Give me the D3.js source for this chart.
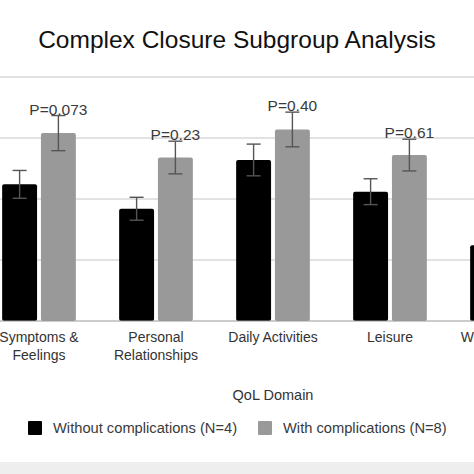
<!DOCTYPE html>
<html>
<head>
<meta charset="utf-8">
<script src="https://cdn.jsdelivr.net/npm/d3@7"></script>
<style>
  html, body { margin: 0; padding: 0; background: #fff; }
  #chart { width: 474px; height: 474px; overflow: hidden; }
  text { font-family: "Liberation Sans", Arial, sans-serif; }
</style>
</head>
<body>
<div id="chart"></div>
<script>
// data
const categories = ["Symptoms & Feelings", "Personal Relationships", "Daily Activities", "Leisure", "Work & School"];
const series = ["Without complications (N=4)", "With complications (N=8)"];
const withoutMean = [56, 46, 66, 53, 31];
const withoutErr = [5.7, 4.7, 6.5, 5.3, 4.5];
const withMean = [77, 67, 78.5, 68, 42];
const withErr = [7.2, 6.7, 7.1, 6.5, 6];
const pValues = ["P=0.073", "P=0.23", "P=0.40", "P=0.61", null];
const yTicks = [0, 25, 50, 75, 100];
const colors = ["#000000", "#999999"];

const W = 474, H = 474;
const svg = d3.select("#chart").append("svg")
  .attr("width", W)
  .attr("height", H);

// bottom grey strip
svg.append("rect")
  .attr("x", 0).attr("y", 462)
  .attr("width", W).attr("height", H - 462)
  .attr("fill", "#eeeeee");

svg.append("text")
  .attr("x", 237).attr("y", 48)
  .attr("text-anchor", "middle")
  .attr("font-size", 24.5)
  .attr("fill", "#111")
  .text("Complex Closure Subgroup Analysis");

const x = d3.scaleBand()
  .domain(categories)
  .range([-19.5, -19.5 + 117 * categories.length])
  .paddingInner(0.37)
  .paddingOuter(0.185);

const xs = d3.scaleBand()
  .domain(series)
  .range([0, x.bandwidth()])
  .paddingInner(0.1);

const y = d3.scaleLinear()
  .domain([0, 100])
  .range([321, 77]);

// gridlines
svg.append("g")
  .selectAll("line")
  .data(yTicks.slice(1))
  .enter()
  .append("line")
  .attr("x1", 0).attr("x2", W)
  .attr("y1", d => y(d)).attr("y2", d => y(d))
  .attr("stroke", "#d8d8d8")
  .attr("stroke-width", 1.6);

const rows = categories.map((c, i) => ({
  cat: c,
  vals: [
    { s: series[0], m: withoutMean[i], e: withoutErr[i], col: colors[0] },
    { s: series[1], m: withMean[i], e: withErr[i], col: colors[1] }
  ],
  p: pValues[i]
}));

const group = svg.append("g")
  .selectAll("g")
  .data(rows)
  .enter()
  .append("g")
  .attr("transform", d => "translate(" + x(d.cat) + ",0)");

group.selectAll("rect")
  .data(d => d.vals)
  .enter()
  .append("rect")
  .attr("x", d => xs(d.s))
  .attr("y", d => y(d.m))
  .attr("width", xs.bandwidth())
  .attr("height", d => y(0) - y(d.m))
  .attr("rx", 2)
  .attr("fill", d => d.col);

// error bars
const errs = group.selectAll("g.err")
  .data(d => d.vals)
  .enter()
  .append("g")
  .attr("class", "err")
  .attr("stroke", "#555")
  .attr("stroke-width", 1.4);

errs.append("line")
  .attr("x1", d => xs(d.s) + xs.bandwidth() / 2)
  .attr("x2", d => xs(d.s) + xs.bandwidth() / 2)
  .attr("y1", d => y(d.m + d.e))
  .attr("y2", d => y(d.m - d.e));

errs.selectAll("line.cap")
  .data(d => [d.m + d.e, d.m - d.e].map(v => ({ v: v, s: d.s })))
  .enter()
  .append("line")
  .attr("class", "cap")
  .attr("x1", d => xs(d.s) + xs.bandwidth() / 2 - 7)
  .attr("x2", d => xs(d.s) + xs.bandwidth() / 2 + 7)
  .attr("y1", d => y(d.v))
  .attr("y2", d => y(d.v));

// p-values above the grey bar
group.filter(d => d.p)
  .append("text")
  .attr("x", xs(series[1]) + xs.bandwidth() / 2)
  .attr("y", d => y(d.vals[1].m + d.vals[1].e) - 1)
  .attr("text-anchor", "middle")
  .attr("font-size", 15.5)
  .attr("fill", "#3a3a3a")
  .text(d => d.p);

// baseline
svg.append("line")
  .attr("x1", 0).attr("x2", W)
  .attr("y1", y(0)).attr("y2", y(0))
  .attr("stroke", "#999")
  .attr("stroke-width", 1);

// category labels (wrapped on two lines)
const labelLines = {
  "Symptoms & Feelings": ["Symptoms &", "Feelings"],
  "Personal Relationships": ["Personal", "Relationships"]
};
svg.append("g")
  .selectAll("text")
  .data(categories)
  .enter()
  .append("text")
  .attr("x", d => x(d) + x.bandwidth() / 2)
  .attr("y", 342)
  .attr("text-anchor", "middle")
  .attr("font-size", 14)
  .attr("fill", "#333")
  .each(function (d) {
    const lines = labelLines[d] || [d];
    d3.select(this).selectAll("tspan")
      .data(lines)
      .enter()
      .append("tspan")
      .attr("x", x(d) + x.bandwidth() / 2)
      .attr("dy", (l, i) => i === 0 ? 0 : 18)
      .text(l => l);
  });

svg.append("text")
  .attr("x", 273).attr("y", 400)
  .attr("text-anchor", "middle")
  .attr("font-size", 14.5)
  .attr("fill", "#333")
  .text("QoL Domain");

// legend
const legendX = [28, 258];
const legend = svg.append("g")
  .selectAll("g")
  .data(series)
  .enter()
  .append("g")
  .attr("transform", (d, i) => "translate(" + legendX[i] + ",421)");

legend.append("rect")
  .attr("width", 14).attr("height", 14)
  .attr("rx", 1)
  .attr("fill", (d, i) => colors[i]);

legend.append("text")
  .attr("x", 25).attr("y", 12)
  .attr("font-size", 14.7)
  .attr("fill", "#3a3a3a")
  .text(d => d);
</script>
</body>
</html>
